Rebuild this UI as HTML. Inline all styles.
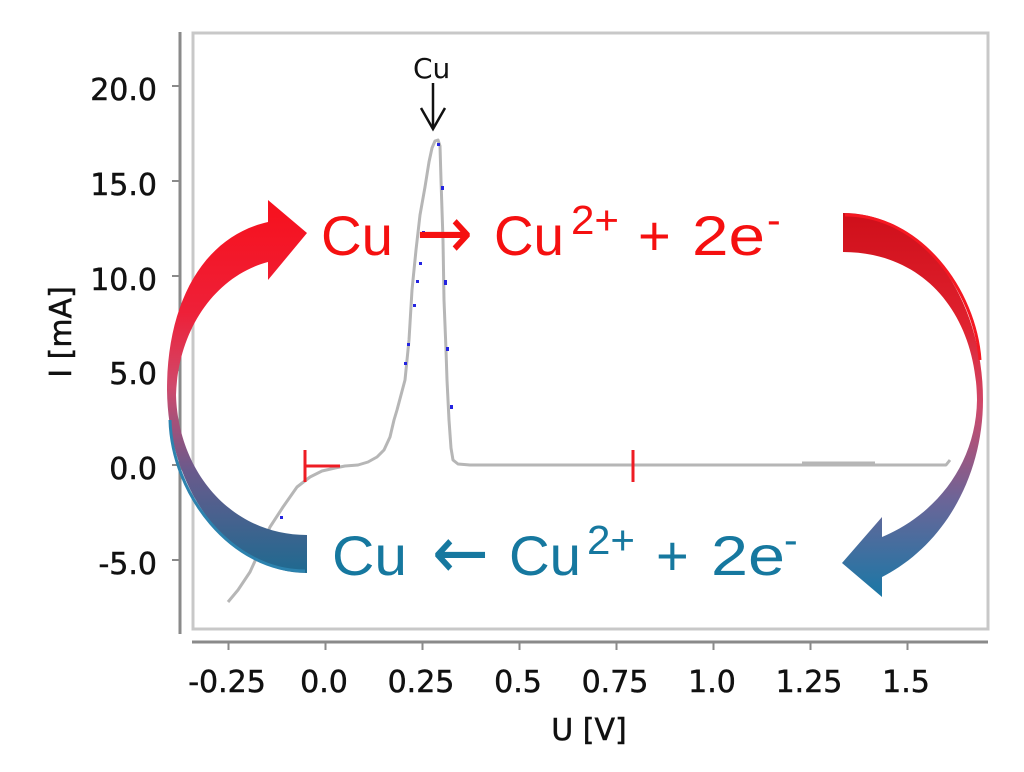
<!DOCTYPE html>
<html>
<head>
<meta charset="utf-8">
<style>
html,body{margin:0;padding:0;background:#fff;}
svg{display:block;}
.tk{font-family:"DejaVu Sans","Liberation Sans",sans-serif;font-size:30px;fill:#111;stroke:#111;stroke-width:0.5;}
.big{font-family:"Liberation Sans","DejaVu Sans",sans-serif;font-size:56px;}
.sup{font-family:"Liberation Sans","DejaVu Sans",sans-serif;font-size:41px;}
.arr{font-family:"DejaVu Sans","Liberation Sans",sans-serif;font-size:74px;}
</style>
</head>
<body>
<svg width="1024" height="772" viewBox="0 0 1024 772" xmlns="http://www.w3.org/2000/svg">
<defs>
<linearGradient id="gL" gradientUnits="userSpaceOnUse" x1="0" y1="200" x2="0" y2="575">
<stop offset="0" stop-color="#f7101c"/>
<stop offset="0.3" stop-color="#ee2038"/>
<stop offset="0.5" stop-color="#cf4a6c"/>
<stop offset="0.72" stop-color="#6a5a8c"/>
<stop offset="1" stop-color="#1d6a90"/>
</linearGradient>
<linearGradient id="gR" gradientUnits="userSpaceOnUse" x1="0" y1="213" x2="0" y2="597">
<stop offset="0" stop-color="#cf0f1a"/>
<stop offset="0.3" stop-color="#e0222f"/>
<stop offset="0.5" stop-color="#d0486a"/>
<stop offset="0.75" stop-color="#6a6598"/>
<stop offset="1" stop-color="#1a78a6"/>
</linearGradient>
</defs>

<!-- plot frame -->
<rect x="193" y="33" width="795" height="596" fill="none" stroke="#c8c8c8" stroke-width="3"/>
<!-- y axis -->
<line x1="180" y1="32" x2="180" y2="634" stroke="#8a8a8a" stroke-width="3"/>
<g stroke="#8a8a8a" stroke-width="2">
<line x1="172" y1="86" x2="180" y2="86"/>
<line x1="172" y1="181" x2="180" y2="181"/>
<line x1="172" y1="276" x2="180" y2="276"/>
<line x1="172" y1="370" x2="180" y2="370"/>
<line x1="172" y1="465" x2="180" y2="465"/>
<line x1="172" y1="560" x2="180" y2="560"/>
</g>
<!-- x axis -->
<line x1="192" y1="642" x2="988" y2="642" stroke="#8a8a8a" stroke-width="3"/>
<g stroke="#8a8a8a" stroke-width="2">
<line x1="228.5" y1="642" x2="228.5" y2="650"/>
<line x1="325.5" y1="642" x2="325.5" y2="650"/>
<line x1="422.5" y1="642" x2="422.5" y2="650"/>
<line x1="519.5" y1="642" x2="519.5" y2="650"/>
<line x1="616.5" y1="642" x2="616.5" y2="650"/>
<line x1="713.5" y1="642" x2="713.5" y2="650"/>
<line x1="810.5" y1="642" x2="810.5" y2="650"/>
<line x1="907.5" y1="642" x2="907.5" y2="650"/>
</g>

<!-- y tick labels -->
<g class="tk" text-anchor="end">
<text x="157" y="100">20.0</text>
<text x="157" y="195">15.0</text>
<text x="157" y="290">10.0</text>
<text x="157" y="384">5.0</text>
<text x="157" y="479">0.0</text>
<text x="157" y="574">-5.0</text>
</g>
<!-- x tick labels -->
<g class="tk" text-anchor="middle">
<text x="227" y="692">-0.25</text>
<text x="324" y="692">0.0</text>
<text x="421" y="692">0.25</text>
<text x="518" y="692">0.5</text>
<text x="615" y="692">0.75</text>
<text x="712" y="692">1.0</text>
<text x="809" y="692">1.25</text>
<text x="906" y="692">1.5</text>
</g>
<text class="tk" x="589" y="740" text-anchor="middle">U [V]</text>
<text class="tk" x="0" y="0" text-anchor="middle" transform="translate(71,332) rotate(-90)">I [mA]</text>

<!-- data curve -->
<polyline fill="none" stroke="#b6b6b6" stroke-width="3" stroke-linejoin="round"
points="228,602 238,590 250,572 260,550 270,527 283,507 297,487 310,477 322,471 335,468 345,466 358,465 368,462 377,457 384,450 390,437 394,420 397,410 401,395 405,380 409,340 412,290 416,250 420,215 425,187 429,162 432,148 435,141 438,140 440,146 441,180 443,240 444,300 446,350 447,380 449,420 451,448 453,460 458,464 470,465 946,465 950,460"/>
<line x1="802" y1="463" x2="875" y2="463" stroke="#b6b6b6" stroke-width="3"/>
<g fill="#2424e0">
<rect x="437" y="143" width="3" height="3"/>
<rect x="441" y="186" width="3" height="4"/>
<rect x="444" y="280" width="3" height="5"/>
<rect x="446" y="347" width="3" height="4"/>
<rect x="450" y="405" width="3" height="4"/>
<rect x="422" y="231" width="3" height="3"/>
<rect x="419" y="262" width="3" height="3"/>
<rect x="416" y="280" width="3" height="3"/>
<rect x="413" y="304" width="3" height="3"/>
<rect x="407" y="343" width="3" height="3"/>
<rect x="404" y="362" width="3" height="3"/>
<rect x="280" y="516" width="3" height="3"/>
</g>

<!-- red markers -->
<g stroke="#ee1c24" stroke-width="3">
<line x1="305" y1="450" x2="305" y2="482"/>
<line x1="305" y1="466" x2="340" y2="466"/>
<line x1="633" y1="450" x2="633" y2="482"/>
</g>

<!-- Cu peak label -->
<text x="413" y="78" style="font-family:'DejaVu Sans','Liberation Sans',sans-serif;font-size:28px;fill:#111;">Cu</text>
<g stroke="#111" stroke-width="2.5" fill="none">
<line x1="433" y1="83" x2="433" y2="129"/>
<polyline points="421,108 433,129 445,108"/>
</g>

<!-- left curved arrow -->
<path fill="url(#gL)" d="M307,573 C230,573 168,490 167,390 C167,300 205,236 268,222 L268,200 L307,233 L268,280 L268,262 C215,276 178,330 176,395 C178,470 230,535 307,535 Z"/>
<path fill="none" stroke="#2c82ae" stroke-width="3" d="M305,571 C232,571 172,495 170,420"/>
<!-- right curved arrow -->
<path fill="url(#gR)" d="M843,213 C925,213 983,300 983,400 C983,475 945,545 882,577 L882,597 L842,563 L882,517 L882,537 C935,515 976,465 977,400 C976,315 925,252 843,252 Z"/>
<path fill="none" stroke="#f51822" stroke-width="3" d="M845,215 C920,215 975,290 980,360"/>

<!-- red equation -->
<g fill="#f51010">
<text class="big" x="321" y="255" textLength="72" lengthAdjust="spacingAndGlyphs">Cu</text>
<text class="arr" x="416" y="258" textLength="57" lengthAdjust="spacingAndGlyphs">→</text>
<text class="big" x="494" y="255" textLength="70" lengthAdjust="spacingAndGlyphs">Cu</text>
<text class="sup" x="571" y="234" textLength="48" lengthAdjust="spacingAndGlyphs">2+</text>
<text class="big" x="638" y="255">+</text>
<text class="big" x="692" y="255" textLength="73" lengthAdjust="spacingAndGlyphs">2e</text>
<text class="sup" x="767" y="234">-</text>
</g>
<!-- blue equation -->
<g fill="#16789f">
<text class="big" x="332" y="575" textLength="75" lengthAdjust="spacingAndGlyphs">Cu</text>
<text class="arr" x="432" y="578" textLength="57" lengthAdjust="spacingAndGlyphs">←</text>
<text class="big" x="509" y="575" textLength="72" lengthAdjust="spacingAndGlyphs">Cu</text>
<text class="sup" x="587" y="554" textLength="48" lengthAdjust="spacingAndGlyphs">2+</text>
<text class="big" x="656" y="575">+</text>
<text class="big" x="711" y="575" textLength="74" lengthAdjust="spacingAndGlyphs">2e</text>
<text class="sup" x="784" y="554">-</text>
</g>
</svg>
</body>
</html>
